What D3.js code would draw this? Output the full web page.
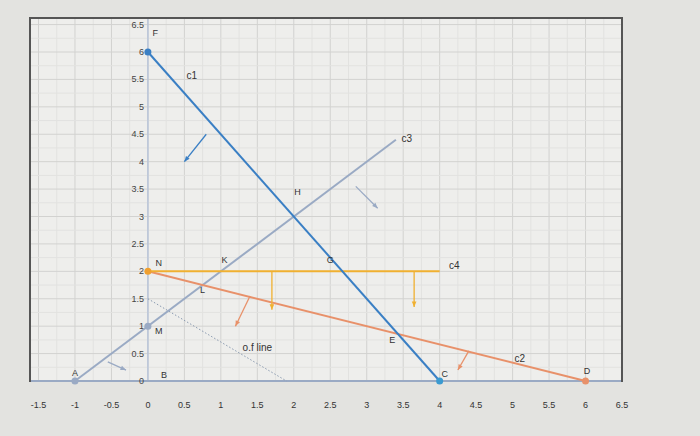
<!DOCTYPE html><html><head><meta charset="utf-8"><script src="https://cdn.jsdelivr.net/npm/d3@7"></script>
<style>body{margin:0;background:#e3e3e0;}</style></head><body><svg id="c" width="700" height="436"></svg>
<script>
const xTicks=[-1.5,-1,-0.5,0,0.5,1,1.5,2,2.5,3,3.5,4,4.5,5,5.5,6,6.5];
const yTicks=[0.5,1,1.5,2,2.5,3,3.5,4,4.5,5,5.5,6,6.5];
const c1=[[0,6],[4,0]];
const c2=[[0,2],[6,0]];
const c3=[[-1,0],[3.4,4.4]];
const c4=[[0,2],[4,2]];
const ofLine=[[0,1.5],[1.9,0]];
const labels=[["F",0.1,6.3],["c1",0.6,5.5],["c3",3.55,4.35],["H",2.05,3.4],["K",1.05,2.15],["G",2.5,2.15],["N",0.15,2.1],["c4",4.2,2.05],["L",0.75,1.6],["M",0.15,0.85],["o.f line",1.5,0.55],["E",3.35,0.7],["c2",5.1,0.35],["A",-1.0,0.1],["B",0.22,0.05],["C",4.07,0.08],["D",6.02,0.12]];
const arrows=[[[0.8,4.5],[0.5,4.0],"#3a7fc4"],[[2.85,3.55],[3.15,3.15],"#9aaac4"],[[-0.55,0.35],[-0.3,0.2],"#9aaac4"],[[1.7,2],[1.7,1.3],"#f0b030"],[[3.65,2],[3.65,1.35],"#f0b030"],[[1.4,1.55],[1.2,1.0],"#e8916a"],[[4.4,0.55],[4.25,0.2],"#e8916a"]];
const svg=d3.select("#c");
const x=d3.scaleLinear().domain([-1.5,6.5]).range([38.5,622]);
const y=d3.scaleLinear().domain([0,6]).range([381,52]);
svg.append("rect").attr("x",30).attr("y",18).attr("width",592).attr("height",363).attr("fill","#eeeeec").attr("stroke","#555").attr("stroke-width",2);
const g=svg.append("g");
d3.range(-1.5,6.51,0.25).forEach(v=>{if(x(v)>31&&x(v)<621)g.append("line").attr("x1",x(v)).attr("x2",x(v)).attr("y1",19).attr("y2",381).attr("stroke",Number.isInteger(v*2)?"#d2d2d0":"#e2e2e0");});
d3.range(0,6.7,0.25).forEach(v=>{if(y(v)>19)g.append("line").attr("x1",31).attr("x2",621).attr("y1",y(v)).attr("y2",y(v)).attr("stroke",Number.isInteger(v*2)?"#d2d2d0":"#e2e2e0");});
svg.append("line").attr("x1",x(0)).attr("x2",x(0)).attr("y1",19).attr("y2",381).attr("stroke","#b8c4d8").attr("stroke-width",1.5);
svg.append("line").attr("x1",31).attr("x2",621).attr("y1",381).attr("y2",381).attr("stroke","#9aaac4").attr("stroke-width",2);
svg.selectAll(".xt").data(xTicks).join("text").attr("x",d=>x(d)).attr("y",408).attr("text-anchor","middle").attr("font-family","Liberation Sans").attr("font-size",9).attr("fill","#333").text(d=>d);
svg.selectAll(".yt").data(yTicks).join("text").attr("x",x(0)-4).attr("y",d=>y(d)+3).attr("text-anchor","end").attr("font-family","Liberation Sans").attr("font-size",9).attr("fill","#444").text(d=>d);
svg.append("text").attr("x",x(0)-4).attr("y",y(0)+3).attr("text-anchor","end").attr("font-family","Liberation Sans").attr("font-size",9).attr("fill","#444").text("0");
const line=d3.line().x(d=>x(d[0])).y(d=>y(d[1]));
svg.append("path").attr("d",line(ofLine)).attr("stroke","#8a9ab0").attr("stroke-dasharray","1.5,2").attr("fill","none");
[[c3,"#9aaac4"],[c2,"#e8916a"],[c4,"#f0b030"],[c1,"#3a7fc4"]].forEach(([d,c])=>svg.append("path").attr("d",line(d)).attr("stroke",c).attr("stroke-width",2).attr("fill","none"));
arrows.forEach(([a,b,c])=>{
  svg.append("line").attr("x1",x(a[0])).attr("y1",y(a[1])).attr("x2",x(b[0])).attr("y2",y(b[1])).attr("stroke",c).attr("stroke-width",1.3);
  const ang=Math.atan2(y(b[1])-y(a[1]),x(b[0])-x(a[0]));
  const px=x(b[0]),py=y(b[1]);
  svg.append("path").attr("d",`M${px},${py}L${px-6*Math.cos(ang-0.4)},${py-6*Math.sin(ang-0.4)}L${px-6*Math.cos(ang+0.4)},${py-6*Math.sin(ang+0.4)}Z`).attr("fill",c);
});
[[[0,6],"#3a7fc4"],[[0,2],"#f0a030"],[[6,0],"#e8916a"],[[4,0],"#3a9ad0"],[[0,1],"#9aaac4"],[[-1,0],"#9aaac4"]].forEach(([p,c])=>svg.append("circle").attr("cx",x(p[0])).attr("cy",y(p[1])).attr("r",3.5).attr("fill",c));
svg.selectAll(".lb").data(labels).join("text").attr("x",d=>x(d[1])).attr("y",d=>y(d[2])).attr("text-anchor","middle").attr("font-family","Liberation Sans").attr("font-size",d=>d[0].length>1?10:9).attr("fill","#333").text(d=>d[0]);
</script></body></html>
